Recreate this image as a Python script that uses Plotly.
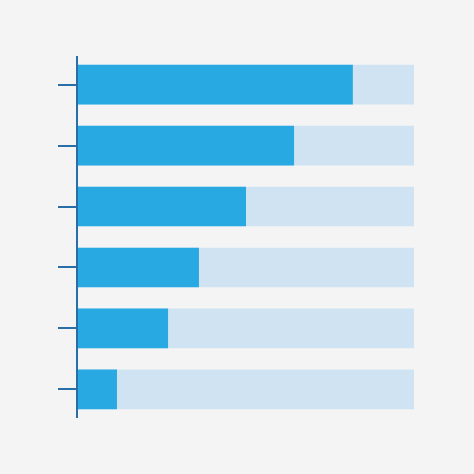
import plotly.graph_objects as go

# rows top to bottom
rows = ["1", "2", "3", "4", "5", "6"]
filled = [0.818, 0.643, 0.500, 0.360, 0.268, 0.116]
track = [1, 1, 1, 1, 1, 1]

fig = go.Figure()
fig.add_trace(go.Bar(
    y=rows, x=track, orientation='h',
    marker=dict(color='#cfe3f2', line=dict(width=0)),
    width=0.65, hoverinfo='skip',
))
fig.add_trace(go.Bar(
    y=rows, x=filled, orientation='h',
    marker=dict(color='#29a9e1', line=dict(width=0)),
    width=0.65,
))

fig.update_layout(
    width=474, height=474,
    margin=dict(l=78, r=60, t=56, b=56),
    paper_bgcolor='#f4f4f4', plot_bgcolor='#f4f4f4',
    barmode='overlay', showlegend=False,
    xaxis=dict(range=[0, 1], visible=False),
    yaxis=dict(
        type='category', range=[5.47, -0.47],
        showline=True, linecolor='#2a6ea8', linewidth=1.5,
        ticks='outside', ticklen=18, tickwidth=1.5, tickcolor='#2a6ea8',
        showticklabels=False, showgrid=False, zeroline=False,
    ),
)

# drop the page's default body margin so the chart fills the window
fig.write_html("out.html", config={'displayModeBar': False},
               post_script="document.body.style.margin='0';"
                           "document.body.style.background='#f4f4f4';")
